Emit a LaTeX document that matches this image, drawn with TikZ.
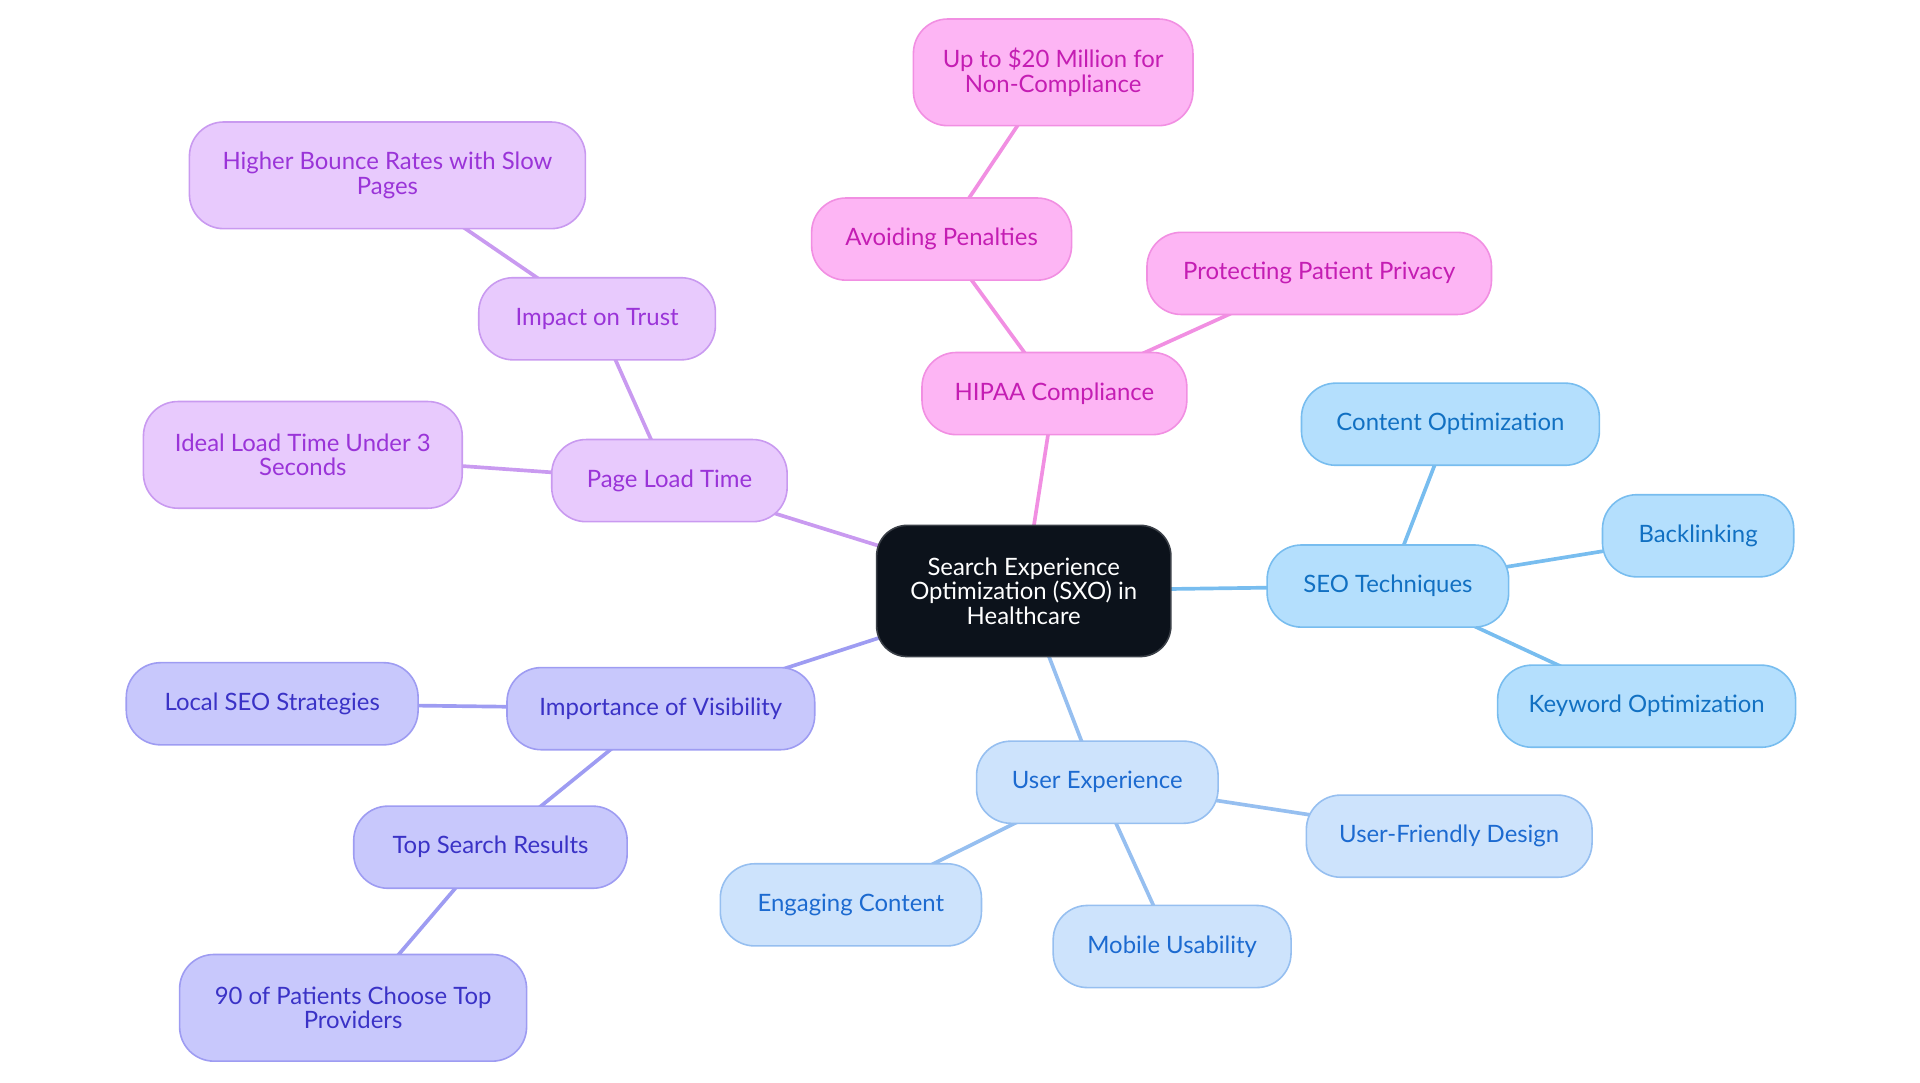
\documentclass[tikz,border=0pt]{standalone}
\usepackage{fontspec}
\setmainfont{Lato}
\usetikzlibrary{backgrounds}
\definecolor{pinkfill}{HTML}{FDB5F4}
\definecolor{pinkline}{HTML}{F18FE2}
\definecolor{pinktext}{HTML}{C41DB3}
\definecolor{purpfill}{HTML}{E8CAFD}
\definecolor{purpline}{HTML}{C99AF0}
\definecolor{purptext}{HTML}{9A34D8}
\definecolor{perifill}{HTML}{C8C8FC}
\definecolor{periline}{HTML}{9E9CF2}
\definecolor{peritext}{HTML}{3A32C6}
\definecolor{uxfill}{HTML}{CDE3FC}
\definecolor{uxline}{HTML}{96BFF0}
\definecolor{uxtext}{HTML}{1C6AD0}
\definecolor{seofill}{HTML}{B4DFFD}
\definecolor{seoline}{HTML}{78BDEF}
\definecolor{seotext}{HTML}{1170C2}
\definecolor{rootfill}{HTML}{0C121B}
\definecolor{rootline}{HTML}{3A3F47}
\begin{document}
\begin{tikzpicture}[x=1pt,y=-1pt,
  box/.style={rounded corners=28pt, line width=1.3pt, align=center, inner sep=0pt,
    minimum height=67pt, font=\fontsize{19.5}{20}\selectfont},
  tall/.style={minimum height=87pt},
  pinkbox/.style={box, fill=pinkfill, draw=pinkline, text=pinktext},
  purpbox/.style={box, fill=purpfill, draw=purpline, text=purptext},
  peribox/.style={box, fill=perifill, draw=periline, text=peritext},
  uxbox/.style={box, fill=uxfill, draw=uxline, text=uxtext},
  seobox/.style={box, fill=seofill, draw=seoline, text=seotext},
  rootbox/.style={box, rounded corners=25pt, fill=rootfill, draw=rootline, text=white,
    minimum width=240pt, minimum height=107pt},
  link/.style={line width=3pt},
]
\useasboundingbox (0,0) rectangle (1566,883.3);

\node[rootbox] (root) at (835,482) {Search Experience\\Optimization (SXO) in\\Healthcare};

\node[pinkbox, minimum width=216pt] (hipaa) at (860,321) {HIPAA Compliance};
\node[pinkbox, minimum width=212pt] (avoid) at (768,195) {Avoiding Penalties};
\node[pinkbox, tall, minimum width=228pt] (upto) at (859,59) {Up to \$20 Million for\\Non-Compliance};
\node[pinkbox, minimum width=281pt] (protect) at (1076,223) {Protecting Patient Privacy};

\node[purpbox, minimum width=192pt] (plt) at (546,392) {Page Load Time};
\node[purpbox, minimum width=193pt] (trust) at (487,260) {Impact on Trust};
\node[purpbox, tall, minimum width=323pt] (higher) at (316,143) {Higher Bounce Rates with Slow\\Pages};
\node[purpbox, tall, minimum width=260pt] (ideal) at (247,371) {Ideal Load Time Under 3\\Seconds};

\node[seobox, minimum width=197pt] (seo) at (1132,478) {SEO Techniques};
\node[seobox, minimum width=243pt] (content) at (1183,346) {Content Optimization};
\node[seobox, minimum width=156pt] (back) at (1385,437) {Backlinking};
\node[seobox, minimum width=243pt] (keyword) at (1343,576) {Keyword Optimization};

\node[uxbox, minimum width=197pt] (ux) at (895,638) {User Experience};
\node[uxbox, minimum width=233pt] (ufd) at (1182,682) {User-Friendly Design};
\node[uxbox, minimum width=194pt] (mobile) at (956,772) {Mobile Usability};
\node[uxbox, minimum width=213pt] (engage) at (694,738) {Engaging Content};

\node[peribox, minimum width=251pt] (vis) at (539,578) {Importance of Visibility};
\node[peribox, minimum width=238pt] (local) at (222,574) {Local SEO Strategies};
\node[peribox, minimum width=223pt] (top) at (400,691) {Top Search Results};
\node[peribox, tall, minimum width=283pt] (ninety) at (288,822) {90 of Patients Choose Top\\Providers};

\begin{scope}[on background layer]
  \draw[link, pinkline] (root.center) -- (hipaa.center);
  \draw[link, pinkline] (hipaa.center) -- (avoid.center);
  \draw[link, pinkline] (avoid.center) -- (upto.center);
  \draw[link, pinkline] (hipaa.center) -- (protect.center);
  \draw[link, purpline] (root.center) -- (plt.center);
  \draw[link, purpline] (plt.center) -- (trust.center);
  \draw[link, purpline] (trust.center) -- (higher.center);
  \draw[link, purpline] (plt.center) -- (ideal.center);
  \draw[link, seoline] (root.center) -- (seo.center);
  \draw[link, seoline] (seo.center) -- (content.center);
  \draw[link, seoline] (seo.center) -- (back.center);
  \draw[link, seoline] (seo.center) -- (keyword.center);
  \draw[link, uxline] (root.center) -- (ux.center);
  \draw[link, uxline] (ux.center) -- (ufd.center);
  \draw[link, uxline] (ux.center) -- (mobile.center);
  \draw[link, uxline] (ux.center) -- (engage.center);
  \draw[link, periline] (root.center) -- (vis.center);
  \draw[link, periline] (vis.center) -- (local.center);
  \draw[link, periline] (vis.center) -- (top.center);
  \draw[link, periline] (top.center) -- (ninety.center);
\end{scope}
\end{tikzpicture}
\end{document}
